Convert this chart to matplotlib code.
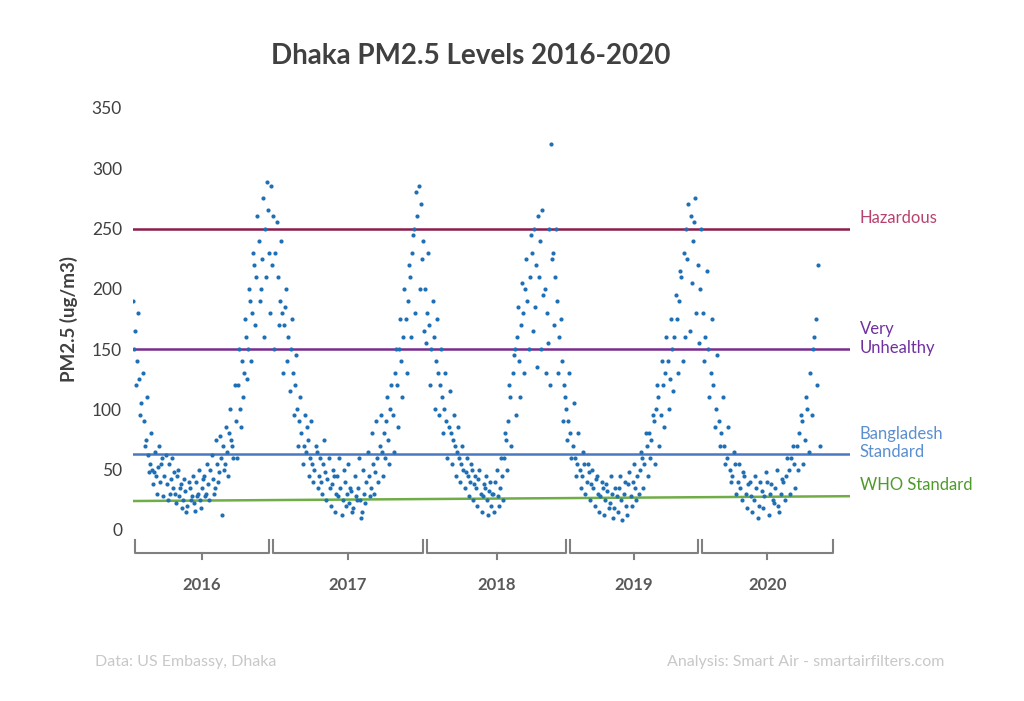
import numpy as np
import matplotlib

matplotlib.use("Agg")
import matplotlib.pyplot as plt  # noqa: E402
import matplotlib.transforms as mtransforms  # noqa: E402

plt.rcParams["font.family"] = ["Lato", "DejaVu Sans"]

# Daily PM2.5 readings (ug/m3), sampled off the chart, one list per year
pm_2016 = [190, 165, 140, 125, 105, 90, 75, 62, 55, 50, 48, 45, 52, 40, 60, 45, 38, 55, 42, 35,
           30, 45, 28, 38, 25, 32, 20, 35, 28, 22, 40, 30, 25, 35, 45, 30, 38, 50, 42, 35,
           55, 48, 60, 70, 55, 65, 80, 75, 60, 90, 120, 100, 140, 130, 160, 150, 190, 180, 220, 210,
           240, 200, 275, 250, 289, 230]
pm_2017 = [285, 260, 230, 210, 190, 180, 170, 200, 160, 150, 130, 120, 100, 90, 80, 70, 65, 75, 60, 55,
           50, 65, 45, 40, 55, 48, 42, 35, 38, 45, 30, 28, 35, 25, 40, 30, 22, 32, 18, 28,
           35, 25, 15, 30, 40, 45, 35, 55, 48, 60, 70, 65, 80, 90, 75, 100, 95, 130, 120, 150,
           140, 160, 175, 190, 210, 230, 250, 280, 285, 270, 240]
pm_2018 = [200, 180, 170, 150, 160, 140, 130, 120, 110, 100, 90, 85, 80, 75, 70, 65, 60, 55, 50, 48,
           45, 40, 50, 38, 35, 42, 30, 28, 35, 25, 32, 20, 30, 40, 28, 35, 45, 60, 75, 90,
           110, 130, 150, 160, 140, 170, 180, 200, 190, 210, 230, 250, 220, 260, 240, 265, 200, 180, 250, 320,
           230, 210, 190, 160, 140, 120, 100]
pm_2019 = [90, 80, 70, 60, 55, 50, 45, 55, 40, 48, 38, 35, 42, 30, 28, 35, 25, 32, 22, 30,
           18, 28, 35, 25, 30, 20, 38, 28, 40, 35, 45, 50, 60, 55, 70, 80, 75, 90, 100, 110,
           95, 120, 130, 140, 125, 150, 160, 175, 190, 210, 230, 250, 270, 260, 240, 275, 220]
pm_2020 = [200, 180, 160, 150, 130, 120, 100, 90, 80, 70, 60, 50, 45, 55, 40, 35, 48, 30, 38, 28,
           25, 35, 20, 32, 28, 40, 30, 25, 35, 20, 30, 40, 45, 50, 60, 55, 70, 80, 90, 75,
           100, 130, 150, 175, 220]

# a second batch of days from the same years, read from the scattered cloud around the trend
pm_2016_b = [150, 120, 180, 95, 130, 70, 110, 48, 80, 38, 65, 30, 70, 55, 28, 62, 25, 30, 60, 48,
             22, 50, 35, 18, 42, 15, 40, 25, 45, 16, 28, 50, 18, 42, 28, 55, 25, 62, 30, 75,
             40, 78, 12, 50, 85, 45, 100, 70, 120, 60, 150, 85, 110, 175, 125, 200, 140, 230, 170, 260,
             190, 225, 160, 210, 265, 180]
pm_2017_b = [220, 150, 255, 170, 240, 130, 185, 140, 115, 175, 95, 145, 70, 110, 55, 95, 85, 45, 90, 40,
             70, 35, 60, 30, 75, 25, 60, 20, 50, 15, 45, 60, 12, 50, 20, 55, 35, 15, 45, 25,
             60, 10, 50, 22, 65, 28, 80, 30, 90, 40, 95, 45, 60, 110, 55, 120, 65, 150, 85, 175,
             110, 200, 130, 220, 160, 245, 180, 260, 200, 225, 165]
pm_2018_b = [155, 230, 120, 190, 100, 175, 95, 150, 80, 130, 60, 115, 55, 95, 45, 85, 40, 70, 35, 60,
             28, 55, 25, 45, 20, 50, 15, 38, 45, 12, 40, 30, 15, 50, 20, 60, 25, 80, 50, 120,
             70, 145, 95, 185, 110, 205, 130, 225, 150, 245, 165, 185, 135, 210, 150, 195, 130, 155, 120, 225,
             170, 250, 130, 175, 90, 110, 75]
pm_2019_b = [130, 60, 105, 45, 80, 35, 65, 30, 55, 25, 50, 20, 45, 15, 40, 12, 38, 18, 45, 10,
             35, 15, 45, 8, 40, 12, 48, 20, 55, 25, 30, 65, 35, 80, 45, 60, 95, 55, 120, 70,
             140, 85, 160, 100, 175, 115, 195, 130, 215, 140, 160, 225, 165, 205, 255, 180, 155]
pm_2020_b = [250, 140, 215, 110, 175, 85, 145, 70, 110, 55, 85, 40, 65, 30, 55, 25, 45, 18, 40, 15,
             45, 10, 40, 18, 48, 12, 38, 22, 50, 15, 42, 25, 60, 30, 70, 35, 50, 95, 55, 110,
             65, 95, 160, 120, 70]

years = ["2016", "2017", "2018", "2019", "2020"]
year_edges = [0, 138, 292, 435, 567, 702]   # bracket edges along the time axis
data_end_2020 = 688

standards = [("Hazardous", 250, 250), ("Very\nUnhealthy", 150, 150),
             ("Bangladesh\nStandard", 63, 63), ("WHO Standard", 24, 28)]
line_colors = ["#8C1C4C", "#7A2C8E", "#4A78C2", "#70AD47"]
label_colors = ["#B8426E", "#7030A0", "#5B8FD0", "#4E9A2A"]

fig = plt.figure(figsize=(10.24, 7.01), dpi=100)
ax = fig.add_axes([0.13, 0.244, 0.70, 0.602])

series = [pm_2016, pm_2017, pm_2018, pm_2019, pm_2020]
series_b = [pm_2016_b, pm_2017_b, pm_2018_b, pm_2019_b, pm_2020_b]
for i, (vals, vals_b) in enumerate(zip(series, series_b)):
    start = year_edges[i]
    end = data_end_2020 if i == 4 else year_edges[i + 1]
    step = (end - start) / len(vals)
    xs = np.linspace(start, end, len(vals), endpoint=False)
    ax.scatter(xs, vals, s=9, color="#1F6FB4", linewidths=0, zorder=3)
    xs_b = np.linspace(start, end, len(vals_b), endpoint=False) + step / 2
    ax.scatter(xs_b, vals_b, s=9, color="#1F6FB4", linewidths=0, zorder=3)

x_max = 717
for (label, y0, y1), lc, tc in zip(standards, line_colors, label_colors):
    ax.plot([0, x_max], [y0, y1], color=lc, linewidth=1.8, zorder=2)
    ax.text(x_max + 10, y1 + 9, label, color=tc, fontsize=12, va="center", ha="left",
            clip_on=False)

ax.set_xlim(0, x_max)
ax.set_ylim(0, 350)
ax.set_yticks(range(0, 351, 50))
ax.tick_params(axis="y", length=0, labelsize=12.5, labelcolor="#404040", pad=8)
ax.set_xticks([])
for s in ax.spines.values():
    s.set_visible(False)
ax.set_ylabel("PM2.5 (ug/m3)", fontsize=13.5, fontweight="bold", color="#404040", labelpad=10)

# year brackets under the axis
trans = mtransforms.blended_transform_factory(ax.transData, ax.transAxes)
bc = "#808080"
for i, yr in enumerate(years):
    a, b = year_edges[i] + 2, year_edges[i + 1] - 2
    ax.plot([a, a, b, b], [-0.024, -0.055, -0.055, -0.024], color=bc, lw=1.5,
            transform=trans, clip_on=False)
    mid = (a + b) / 2
    ax.plot([mid, mid], [-0.055, -0.07], color=bc, lw=1.5, transform=trans, clip_on=False)
    ax.text(mid, -0.13, yr, transform=trans, ha="center", va="center", fontsize=12,
            fontweight="bold", color="#595959")

fig.text(0.46, 0.92, "Dhaka PM2.5 Levels 2016-2020", ha="center", va="center",
         fontsize=20, fontweight="bold", color="#404040")
fig.text(0.093, 0.055, "Data: US Embassy, Dhaka", fontsize=11.5, color="#C8C8C8", va="center")
fig.text(0.922, 0.055, "Analysis: Smart Air - smartairfilters.com", fontsize=11.5,
         color="#C8C8C8", va="center", ha="right")

fig.savefig("out.png", dpi=100)
